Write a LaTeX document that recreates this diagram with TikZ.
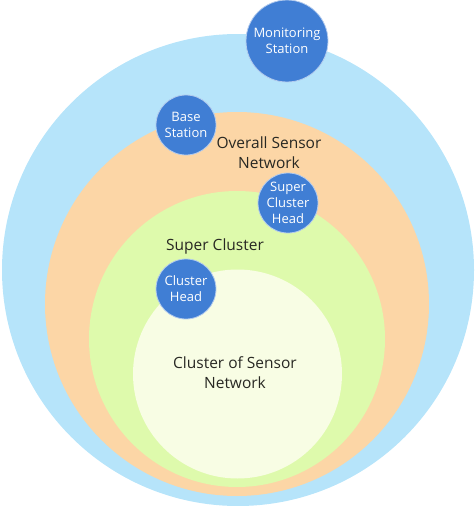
\documentclass[tikz,border=0pt]{standalone}
\usepackage{fontspec}
\setmainfont{Open Sans}
\usepackage{tikz}
\usetikzlibrary{shapes, backgrounds}
\definecolor{skyband}{RGB}{182,228,250}
\definecolor{peachband}{RGB}{252,214,166}
\definecolor{limeband}{RGB}{222,250,172}
\definecolor{creamband}{RGB}{248,253,228}
\definecolor{stationblue}{RGB}{64,126,212}
\definecolor{captiongray}{RGB}{40,40,35}

\begin{document}
\begin{tikzpicture}[x=1pt, y=-1pt,
zone/.style={circle, inner sep=0pt},
station/.style={circle, draw=white!60!stationblue, line width=0.8pt, fill=stationblue, text=white,
  minimum size=60pt, inner sep=0pt, align=center, font=\fontsize{13}{16}\selectfont},
caption/.style={align=center, text=captiongray, font=\fontsize{15.5}{20}\selectfont}
    ]
  \useasboundingbox (0,0) rectangle (474,506);
  %% nested zones
  \node[zone, fill=skyband, minimum size=472pt] (overall) at (238,270) {};
  \node[zone, fill=peachband, minimum size=384pt] (network) at (237,304) {};
  \node[zone, fill=limeband, minimum size=296pt] (supercl) at (237,339) {};
  \node[zone, fill=creamband, minimum size=209pt] (cluster) at (237.5,374) {};
  %% zone captions
  \node[caption] (networktxt) at (269,153) {Overall Sensor\\Network};
  \node[caption] (superctxt) at (215,246) {Super Cluster};
  \node[caption] (clustertxt) at (235,373) {Cluster of Sensor\\Network};
  %% stations
  \node[station, minimum size=82pt] (monitor) at (287,41) {Monitoring\\Station};
  \node[station] (base) at (186,125) {Base\\Station};
  \node[station] (superhead) at (288,203) {Super\\Cluster\\Head};
  \node[station] (head) at (186,289) {Cluster\\Head};
\end{tikzpicture}
\end{document}
